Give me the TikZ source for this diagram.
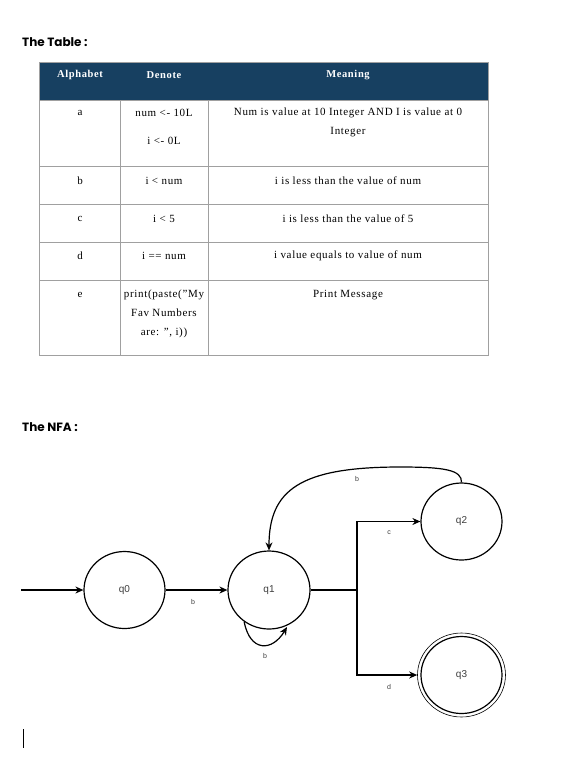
\documentclass[tikz,border=0pt]{standalone}
\usepackage{fontspec}
\setmainfont{Liberation Serif}[LetterSpace=6]
\newfontfamily\nodefont{Liberation Sans}
\newfontfamily\titlefont{Poppins}
\usetikzlibrary{shapes.geometric,arrows.meta}
\definecolor{hdr}{RGB}{23,64,97}
\definecolor{grid}{RGB}{160,160,160}
\definecolor{lbl}{RGB}{60,60,60}
\tikzset{
  title/.style={anchor=west,font=\titlefont\bfseries\fontsize{12}{14}\selectfont,inner sep=0},
  hcell/.style={font=\bfseries\fontsize{10.5}{12}\selectfont,text=white,inner sep=0},
  cell/.style={font=\fontsize{11}{12}\selectfont,inner sep=0},
  state/.style={ellipse,draw,line width=1.2pt,minimum width=81pt,minimum height=77pt,inner sep=0,font=\nodefont\fontsize{10}{11}\selectfont,text=lbl},
  edge/.style={line width=1.2pt,-{Stealth[length=8pt,width=7pt]}},
  elabel/.style={font=\nodefont\fontsize{7}{8}\selectfont,text=lbl,inner sep=0}
}
\begin{document}
\begin{tikzpicture}[x=1pt,y=-1pt]
\useasboundingbox (0,0) rectangle (569,777);
% titles
\node[title] (t1) at (22,42) {The Table :};
\node[title] (t2) at (22,427) {The NFA :};
% table
\fill[hdr] (39,62) rectangle (488,100);
\draw[grid,line width=0.8pt] (39,62) rectangle (488,355);
\foreach \y in {100,166,204,242,280} \draw[grid,line width=0.8pt] (39,\y) -- (488,\y);
\draw[grid,line width=0.8pt] (120,100) -- (120,355);
\draw[grid,line width=0.8pt] (208,100) -- (208,355);
\node[hcell] (h1) at (80,75) {Alphabet};
\node[hcell] (h2) at (164,75) {Denote};
\node[hcell] (h3) at (348,75) {Meaning};
\node[cell] (a1) at (80,113) {a};
\node[cell] (a2) at (164,113) {num <- 10L};
\node[cell] (a2b) at (164,141) {i <- 0L};
\node[cell] (a3) at (348,113) {Num is value at 10 Integer AND I is value at 0};
\node[cell] (a3b) at (348,132) {Integer};
\node[cell] (b1) at (80,181) {b};
\node[cell] (b2) at (164,181) {i < num};
\node[cell] (b3) at (348,181) {i is less than the value of num};
\node[cell] (c1) at (80,219) {c};
\node[cell] (c2) at (164,219) {i < 5};
\node[cell] (c3) at (348,219) {i is less than the value of 5};
\node[cell] (d1) at (80,256) {d};
\node[cell] (d2) at (164,256) {i == num};
\node[cell] (d3) at (348,256) {i value equals to value of num};
\node[cell] (e1) at (80,295) {e};
\node[cell] (e2) at (164,295) {print(paste("My};
\node[cell] (e2b) at (164,313) {Fav Numbers};
\node[cell] (e2c) at (164,333) {are: ", i))};
\node[cell] (e3) at (348,295) {Print Message};
% NFA
\node[state] (q0) at (124.5,590) {q0};
\node[state,minimum width=82pt,minimum height=78pt] (q1) at (269,590) {q1};
\node[state] (q2) at (461.5,521.5) {q2};
\node[state] (q3) at (461.5,675) {q3};
\node[ellipse,draw,line width=0.6pt,minimum width=88pt,minimum height=84pt,inner sep=0] (q3o) at (461.5,675) {};
\coordinate (start) at (21,590);
\coordinate (br) at (357,590);
\draw[edge] (start) -- (q0);
\draw[edge] (q0) -- (q1);
\node[elabel] (lb1) at (193,602) {b};
\draw[edge] (q1.232) .. controls (250,652) and (272,652) .. (287,627);
\node[elabel] (lb2) at (265,656) {b};
\draw[edge] (q2.north) .. controls (462,470) and (445,467) .. (400,467) .. controls (300,467) and (269,490) .. (q1.north);
\node[elabel] (lb3) at (357,479) {b};
\draw[line width=1.2pt] (q1.east) -- (br);
\draw[edge] (br) |- (q2.west);
\draw[edge] (br) |- (q3o.west);
\node[elabel] (lc) at (389,533) {c};
\node[elabel] (ld) at (389,687) {d};
% text cursor
\draw[line width=0.8pt] (23,729) -- (23,748);
\end{tikzpicture}
\end{document}
